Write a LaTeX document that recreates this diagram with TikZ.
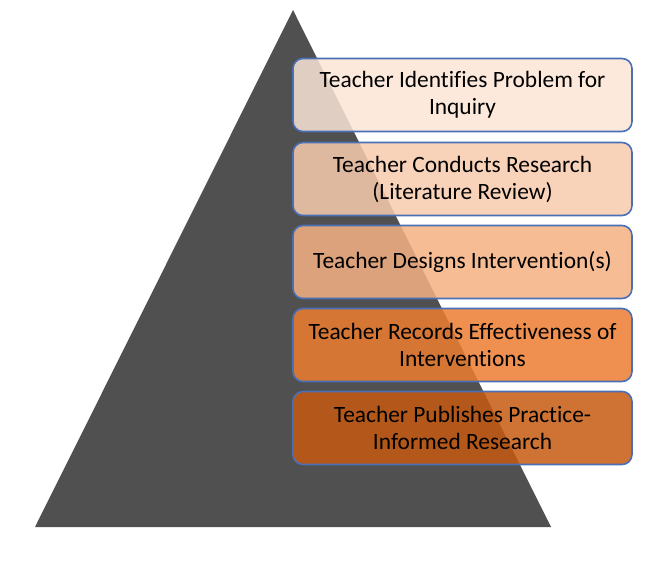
\documentclass[tikz,border=0pt]{standalone}
\usepackage{fontspec}
\setmainfont{Carlito}[Ligatures=NoCommon]
\usepackage{tikz}
\usetikzlibrary{positioning,backgrounds}

\definecolor{pyramid}{HTML}{505050}
\definecolor{edgeblue}{HTML}{4A6FB5}
\definecolor{stepA}{HTML}{FBE5D6}
\definecolor{stepB}{HTML}{F8CBAD}
\definecolor{stepC}{HTML}{F4B183}
\definecolor{stepD}{HTML}{ED7D31}
\definecolor{stepE}{HTML}{C55A11}

\begin{document}
\begin{tikzpicture}[x=1pt,y=-1pt,
                    stepbox/.style={rectangle,rounded corners=10pt,draw=edgeblue,line width=1.6pt,
                                    fill opacity=0.85,text opacity=1,
                                    minimum width=339pt,minimum height=73pt,inner sep=0pt,
                                    align=center,font=\fontsize{23.4}{27}\selectfont}]
    \useasboundingbox (0,0) rectangle (652,572);

    % pyramid behind the steps
    \fill [pyramid] (293,10) -- (551,527) -- (35,527) -- cycle;

    \node at (462.5, 95) (identify) [stepbox,fill=stepA] {Teacher Identifies Problem for\\Inquiry};
    \node at (462.5,179) (research) [stepbox,fill=stepB] {Teacher Conducts Research\\(Literature Review)};
    \node at (462.5,262) (design)   [stepbox,fill=stepC] {Teacher Designs Intervention(s)};
    \node at (462.5,345) (record)   [stepbox,fill=stepD] {Teacher Records Effectiveness of\\Interventions};
    \node at (462.5,428) (publish)  [stepbox,fill=stepE] {Teacher Publishes Practice-\\Informed Research};
\end{tikzpicture}
\end{document}
